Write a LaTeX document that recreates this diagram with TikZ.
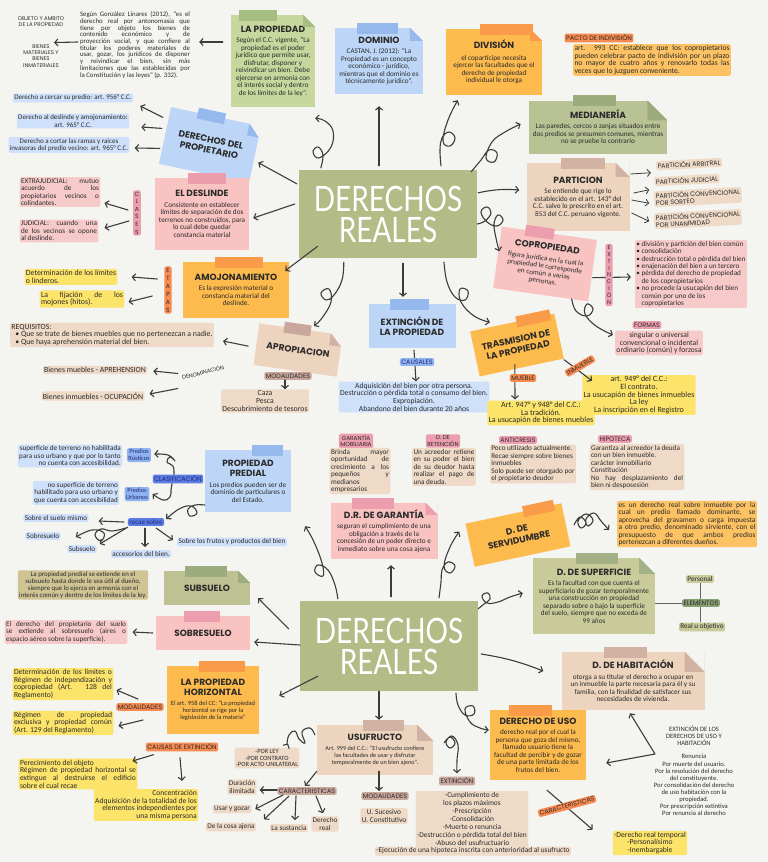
\documentclass[tikz,border=0pt]{standalone}
\usepackage{fontspec}
\setmainfont{Carlito}
\newfontfamily\headfont{Poppins}
\newfontfamily\bigfont[FakeStretch=0.8]{Lato}
\usetikzlibrary{arrows.meta,calc,positioning}

\definecolor{paper}{HTML}{F4F4F1}
\definecolor{ink}{HTML}{3C3C3C}
\definecolor{txt}{HTML}{2B2B2B}
\definecolor{navy}{HTML}{1E2B78}
\definecolor{titlegreen}{HTML}{B3BB86}
\definecolor{leaf}{HTML}{C6D89E}
\definecolor{leafd}{HTML}{A6BF80}
\definecolor{sky}{HTML}{BDD6F7}
\definecolor{skyd}{HTML}{95B9EC}
\definecolor{skyl}{HTML}{CFE0FA}
\definecolor{royal}{HTML}{5B7BE3}
\definecolor{mid}{HTML}{8FB3F0}
\definecolor{amber}{HTML}{FDBA4D}
\definecolor{amberd}{HTML}{F99B48}
\definecolor{coral}{HTML}{F68A50}
\definecolor{apricot}{HTML}{FDC263}
\definecolor{lemon}{HTML}{FCE36A}
\definecolor{rose}{HTML}{F8C3C1}
\definecolor{rosed}{HTML}{EC9EAF}
\definecolor{rosel}{HTML}{F7CACA}
\definecolor{sand}{HTML}{EDD4BE}
\definecolor{sandd}{HTML}{D2B2A2}
\definecolor{sandl}{HTML}{EFDAC8}
\definecolor{cocoa}{HTML}{C9A79D}
\definecolor{sage}{HTML}{B8C294}
\definecolor{saged}{HTML}{9DAC7E}
\definecolor{moss}{HTML}{C9CB9B}
\definecolor{mossd}{HTML}{A4B184}
\definecolor{fern}{HTML}{86A072}
\definecolor{olive}{HTML}{BEC191}
\definecolor{khaki}{HTML}{D0C495}

\newcommand{\bsz}{\fontsize{7.2}{7.5}\selectfont}
\newcommand{\ssz}{\fontsize{6.4}{6.9}\selectfont}
\newcommand{\lsz}{\fontsize{7.8}{7.7}\selectfont}
\newcommand{\tsz}{\headfont\fontsize{6.4}{6.8}\selectfont}
\newcommand{\ntitle}[1]{{\headfont\bfseries\fontsize{9}{10}\selectfont #1}}

\newcommand{\notetape}[4]{%
  \coordinate (#1-ta) at ($(#1.north west)!#3!(#1.north east)$);
  \coordinate (#1-tb) at ($(#1.north west)!#4!(#1.north east)$);
  \fill[#2] ($(#1-ta)!5pt!90:(#1-tb)$) -- ($(#1-tb)!5pt!-90:(#1-ta)$)
    -- ($(#1-tb)!6pt!90:(#1-ta)$) -- ($(#1-ta)!6pt!-90:(#1-tb)$) -- cycle;}
\newcommand{\notefold}[3]{%
  \coordinate (#1-fa) at ($(#1.north east)!#3!(#1.north west)$);
  \coordinate (#1-fb) at ($(#1.north east)!#3!(#1.south east)$);
  \fill[paper] (#1.north east) -- (#1-fa) -- (#1-fb) -- cycle;
  \fill[#2] (#1-fa) -- (#1-fb) -- ($(#1-fa)+(#1-fb)-(#1.north east)$) -- cycle;}

\tikzset{
  note/.style={fill=#1, inner xsep=4pt, inner ysep=3pt, align=center, text=txt, font=\bsz},
  hl/.style={fill=#1, rounded corners=1.5pt, inner sep=1.3pt, text=txt, font=\bsz},
  tag/.style={fill=#1, rounded corners=1.5pt, inner sep=1.5pt, text=txt, font=\tsz},
  bare/.style={text=txt, font=\bsz, inner sep=1pt},
  bigtitle/.style={fill=titlegreen, text=white, font=\bigfont\fontsize{35}{31}\selectfont,
    align=center, minimum width=178pt, minimum height=88pt, inner sep=0pt},
  arr/.style={draw=ink, line width=1.1pt, line cap=round, line join=round,
    -{Straight Barb[length=3.2pt,width=7pt]}},
  arrs/.style={arr, line width=0.8pt},
  both/.style={arr, {Straight Barb[length=3.2pt,width=7pt]}-{Straight Barb[length=3.2pt,width=7pt]}},
  link/.style={draw=ink!80, line width=0.6pt},
  loopy/.style={arr, smooth, tension=0.7}
}

\begin{document}
\begin{tikzpicture}[x=1pt,y=-1pt]
\useasboundingbox (0,0) rectangle (768,862);
\fill[paper] (0,0) rectangle (768,862);

% ---------- upper map
\node[bigtitle] (top) at (388,214) {DERECHOS\\REALES};

\node[note=leaf, minimum width=84pt, minimum height=92pt] (propiedad) at (273,61)
  {\ntitle{LA PROPIEDAD}\\[3pt]Según el C.C. vigente, “La\\propiedad es el poder\\jurídico que permite usar,\\disfrutar, disponer y\\reivindicar un bien. Debe\\ejercerse en armonía con\\el interés social y dentro\\de los límites de la ley”.};
\notefold{propiedad}{leafd}{12pt}
\notetape{propiedad}{leafd}{0.1}{0.55}
\node[note=sky, minimum width=86pt, minimum height=66pt] (dominio) at (379,61)
  {\ntitle{DOMINIO}\\[3pt]CASTAN, J. (2012): “La\\Propiedad es un concepto\\económico - jurídico,\\mientras que el dominio es\\técnicamente jurídico”.};
\notefold{dominio}{skyd}{13pt}
\notetape{dominio}{skyd}{0.25}{0.72}
\node[note=amber, minimum width=96pt, minimum height=66pt] (division) at (494,62)
  {\ntitle{DIVISIÓN}\\[4pt]el copartícipe necesita\\ejercer las facultades que el\\derecho de propiedad\\individual le otorga};
\notefold{division}{amberd}{12pt}
\notetape{division}{amberd}{0.35}{0.9}

\node[bare, align=center, font=\headfont\fontsize{5.4}{6}\selectfont] (ambito) at (41,22) {OBJETO Y AMBITO\\DE LA PROPIEDAD};
\node[bare, align=center, font=\headfont\fontsize{5.4}{6.2}\selectfont] (bienes) at (41,56) {BIENES\\MATERIALES Y\\BIENES\\INMATERIALES};
\node[bare, text width=110pt, align=justify, font=\fontsize{6.8}{6.7}\selectfont] (quote) at (135,45)
  {Según González Linares (2012), “es el \linebreak derecho real por antonomasia que \linebreak tiene por objeto los bienes de \linebreak contenido económico y de \linebreak proyección social, y que confiere al \linebreak titular los poderes materiales de \linebreak usar, gozar, los jurídicos de disponer \linebreak y reivindicar el bien, sin más \linebreak limitaciones que las establecidas por \linebreak la Constitución y las leyes” (p. 332).};
\draw[arr] ($(propiedad.west |- quote.east)+(-8,-3)$) -- ($(quote.east)+(8,-3)$);
\draw[arr] ($(quote.west)+(-1,-3)$) -- ($(bienes.north east)+(-6,-1)$);

\node[tag=coral] (pacto) at (599,38) {PACTO DE INDIVISIÓN};
\node[hl=apricot, text width=155pt, align=justify, font=\fontsize{7.6}{7.5}\selectfont] (pactotxt) at (652,60)
  {art. 993 CC: establece que los copropietarios \linebreak pueden celebrar pacto de indivisión por un plazo \linebreak no mayor de cuatro años y renovarlo todas las \linebreak veces que lo juzguen conveniente.};

\node[note=sage, minimum width=137pt, minimum height=53pt] (medianeria) at (598,127)
  {\ntitle{MEDIANERÍA}\\[3pt]Las paredes, cercos o zanjas situados entre\\dos predios se presumen comunes, mientras\\no se pruebe lo contrario};
\notefold{medianeria}{saged}{20pt}
\notetape{medianeria}{saged}{0.32}{0.63}

\node[note=sand, minimum width=103pt, minimum height=68pt] (particion) at (578,197)
  {\ntitle{PARTICION}\\[3pt]Se entiende que rige lo\\establecido en el art. 143° del\\C.C. salvo lo prescrito en el art.\\853 del C.C. peruano vigente.};
\notefold{particion}{sandd}{14pt}
\notetape{particion}{sandd}{0.34}{0.76}
\node[tag=sandl, font=\headfont\fontsize{6.4}{6.8}\selectfont, rotate=3] (arbitral) at (689,164) {PARTICIÓN ARBITRAL};
\node[tag=sandl, font=\headfont\fontsize{6.4}{6.8}\selectfont, rotate=3] (judicial) at (687,180) {PARTICIÓN JUDICIAL};
\node[tag=sandl, font=\headfont\fontsize{6.4}{6.8}\selectfont, align=left, rotate=3] (sorteo) at (698,197) {PARTICIÓN CONVENCIONAL\\POR SORTEO};
\node[tag=sandl, font=\headfont\fontsize{6.4}{6.8}\selectfont, align=left, rotate=3] (unanimidad) at (698,219) {PARTICIÓN CONVENCIONAL\\POR UNANIMIDAD};
\draw[arrs] ($(particion.east)+(1,-23)$) -- ($(arbitral.west)+(-5,7)$);
\draw[arrs] ($(particion.east)+(4,-4)$) -- ($(judicial.west)+(-5,8)$);
\draw[arrs] ($(particion.east)+(2,3)$) -- ($(sorteo.west)+(-5,4)$);
\draw[arrs] ($(particion.east)+(2,16)$) -- ($(unanimidad.west)+(-5,0)$);

\node[note=sky, minimum width=92pt, minimum height=58pt, rotate=-12] (propietario) at (210,145)
  {\ntitle{DERECHOS DEL}\\[3pt]\ntitle{PROPIETARIO}};
\notefold{propietario}{skyd}{12pt}
\notetape{propietario}{skyd}{0.3}{0.6}
\node[hl=skyl, font=\fontsize{7}{7.2}\selectfont] (cercar) at (73,98) {Derecho a cercar su predio: art. 956° C.C.};
\node[hl=skyl, align=center, font=\fontsize{7}{7.2}\selectfont] (amojon) at (73,121) {Derecho al deslinde y amojonamiento:\\art. 965° C.C.};
\node[hl=skyl, align=center, font=\fontsize{7}{7.2}\selectfont] (cortar) at (69,145) {Derecho a cortar las ramas y raíces\\invasoras del predio vecino: art. 965° C.C.};
\draw[arr] ($(propietario.west)+(-2,-18)$) -- ($(cercar.east)+(7,8)$);
\draw[arr] ($(propietario.west)+(-3,-7)$) -- ($(amojon.east)+(12,6)$);
\draw[arr] ($(propietario.west)+(-5,13)$) -- ($(cortar.east)+(5,3)$);

\node[note=rose, minimum width=94pt, minimum height=72pt] (deslinde) at (202,214)
  {\ntitle{EL DESLINDE}\\[3pt]Consistente en establecer\\límites de separación de dos\\terrenos no construidos, para\\lo cual debe quedar\\constancia material};
\notetape{deslinde}{rosed}{0.35}{0.75}
\node[tag=rosed, align=center, font=\headfont\fontsize{6}{7.6}\selectfont] (clases) at (137,213) {C\\L\\A\\S\\E\\S};
\node[hl=rosel, text width=78pt, align=justify] (extrajud) at (60,192)
  {EXTRAJUDICIAL: mutuo \linebreak acuerdo de los \linebreak propietarios vecinos o \linebreak colindantes.};
\node[hl=rosel, text width=76pt, align=justify] (judicial2) at (59,231)
  {JUDICIAL: cuando una \linebreak de los vecinos se opone \linebreak al deslinde.};
\draw[arr] ($(clases.west)+(-5,-3)$) -- ($(extrajud.east)+(4,11)$);
\draw[arr] ($(clases.west)+(-4,8)$) -- ($(judicial2.east)+(6,-3)$);

\node[note=amber, minimum width=106pt, minimum height=56pt] (amojonamiento) at (236,290)
  {\ntitle{AMOJONAMIENTO}\\[3pt]Es la expresión material o\\constancia material del\\deslinde.};
\notetape{amojonamiento}{amberd}{0.3}{0.75}
\node[tag=coral, align=center, font=\headfont\fontsize{6}{8}\selectfont] (etapas) at (168,290) {E\\T\\A\\P\\A\\S};
\node[hl=lemon, align=left, font=\lsz] (limites) at (71,277) {Determinación de los límites\\o linderos.};
\node[hl=lemon, text width=82pt, align=justify, font=\lsz] (mojones) at (82,299) {La fijación de los \linebreak mojones (hitos).};
\draw[arr] ($(etapas.west)+(-7,-11)$) -- ($(limites.east)+(14,0)$);
\draw[arr] ($(etapas.west)+(-12,6)$) -- ($(mojones.east)+(4,3)$);

\node[note=sand, minimum width=84pt, minimum height=42pt, rotate=-8] (apropiacion) at (298,350) {\ntitle{APROPIACION}};
\notefold{apropiacion}{sandd}{12pt}
\notetape{apropiacion}{cocoa}{0.3}{0.62}
\node[hl=sandl, align=left, font=\lsz] (requisitos) at (112,335)
  {REQUISITOS:\\\hspace*{4pt}\textbullet\ Que se trate de bienes muebles que no pertenezcan a nadie.\\\hspace*{4pt}\textbullet\ Que haya aprehensión material del bien.};
\draw[arr] ($(apropiacion.west)+(-8,2)$) -- ($(requisitos.east)+(9,6)$);
\node[bare, font=\headfont\fontsize{5.6}{6}\selectfont, rotate=14] (denom) at (203,372) {DENOMINACIÓN};
\node[hl=sandl, font=\lsz] (aprehension) at (95,370) {Bienes muebles - APREHENSION};
\node[hl=sandl, font=\lsz] (ocupacion) at (93,396) {Bienes inmuebles - OCUPACIÓN};
\draw[arr] ($(denom.west)+(-3,-4)$) -- ($(aprehension.east)+(6,1)$);
\draw[arr] ($(denom.west)+(-3,11)$) -- ($(ocupacion.east)+(5,-2)$);
\node[tag=cocoa] (modal1) at (288,376) {MODALIDADES};
\node[hl=sandl, align=center, font=\lsz] (caza) at (265,401) {Caza\\Pesca\\Descubrimiento de tesoros};
\draw[arr] ($(modal1.south)+(-3,0)$) -- ($(modal1.south |- caza.north)+(-3,0)$);

\node[note=sky, minimum width=87pt, minimum height=44pt] (extincion) at (412,326)
  {\ntitle{EXTINCIÓN DE}\\[3pt]\ntitle{LA PROPIEDAD}};
\notetape{extincion}{skyd}{0.25}{0.7}
\node[hl=skyl, align=center, font=\fontsize{7.6}{7.6}\selectfont] (causaltxt) at (414,397)
  {Adquisición del bien por otra persona.\\Destrucción o pérdida total o consumo del bien.\\Expropiación.\\Abandono del bien durante 20 años};
\draw[arr] ($(extincion.south)+(2,2)$) -- ($(causaltxt.north)+(2,0)$);
\node[tag=mid, text=navy] (causales) at (417,362) {CAUSALES};

\node[note=amber, minimum width=86pt, minimum height=46pt, rotate=12] (trasmision) at (517,345)
  {\ntitle{TRASMISION DE}\\[3pt]\ntitle{LA PROPIEDAD}};
\notetape{trasmision}{amberd}{0.55}{0.95}
\node[hl=lemon, align=center, font=\fontsize{8}{7.6}\selectfont] (muebletxt) at (541,413)
  {Art. 947° y 948° del C.C.:\\La tradición.\\La usucapión de bienes muebles};
\node[hl=lemon, align=center, font=\fontsize{8}{7.6}\selectfont] (inmuebletxt) at (639,395)
  {art. 949° del C.C.:\\El contrato.\\La usucapión de bienes inmuebles\\La ley\\La inscripción en el Registro};
\draw[arr] ($(trasmision.south)+(-7,-3)$) -- ($(muebletxt.north)+(-26,-1)$);
\draw[arr] ($(trasmision.south east)+(0,1)$) -- ($(inmuebletxt.north west)+(10,6)$);
\node[tag=coral] (mueble) at (523,378) {MUEBLE};
\node[tag=coral, rotate=30] (inmueble) at (580,366) {INMUEBLE};

\node[note=rose, minimum width=96pt, minimum height=62pt, rotate=-8] (copropiedad) at (545,264)
  {\ntitle{COPROPIEDAD}\\[4pt]figura jurídica en la cual la\\propiedad le corresponde\\en común a varias\\personas.};
\notetape{copropiedad}{rosed}{0.25}{0.55}
\node[hl=rosel, align=left, font=\fontsize{7.2}{7.4}\selectfont] (extlist) at (691,274)
  {\textbullet\ división y partición del bien común\\\textbullet\ consolidación\\\textbullet\ destrucción total o pérdida del bien\\\textbullet\ enajenación del bien a un tercero\\\textbullet\ pérdida del derecho de propiedad\\\phantom{\textbullet\ }de los copropietarios\\\textbullet\ no procede la usucapión del bien\\\phantom{\textbullet\ }común por uno de los\\\phantom{\textbullet\ }copropietarios};
\draw[arr] ($(copropiedad.east)+(0,7)$) -- ($(extlist.west)+(-4,3)$);
\node[tag=rosed, align=center, font=\headfont\fontsize{5.5}{6.9}\selectfont] (extv) at (609,275) {E\\X\\T\\I\\N\\C\\I\\Ó\\N};
\node[tag=rosed] (formas) at (647,325) {FORMAS};
\node[hl=rosel, align=center, font=\fontsize{7.6}{7.8}\selectfont] (formtxt) at (659,343)
  {singular o universal\\convencional o incidental\\ordinario (común) y forzosa};
\draw[loopy] plot coordinates {($(copropiedad.south)+(31,4)$) (576,311) (587,316) (593,309) (587,304) (585,314) (596,326) ($(formtxt.west)+(-2,-8)$)};

\draw[arr] ($(top.north -| dominio.south)+(0,-4)$) -- ($(dominio.south)+(0,12)$);
\draw[loopy] plot coordinates {($(top.north west)+(22,-2)$) (323,155) (318,147) (313,152) (319,158) (331,147) (333,131) (325,121) ($(propiedad.south east)+(0,11)$)};
\draw[loopy] plot coordinates {($(top.north)+(53,-4)$) (440,150) (442,138) (449,132) (455,138) (450,146) (443,141) (448,120) ($(division.south west)+(12,5)$)};
\draw[loopy] plot coordinates {($(top.north east)+(-6,2)$) (481,160) (489,150) (497,153) (494,162) (486,158) (492,142) (505,132) ($(medianeria.west)+(-8,-3)$)};
\draw[arr] ($(top.north east)+(1,23)$) to[bend left=8] ($(particion.west)+(-7,-7)$);
\draw[loopy] plot coordinates {($(top.east)+(0,10)$) (485,221) (491,213) (487,207) (481,212) (487,222) (497,226) (503,220) (498,215) (494,224) (496,238) ($(copropiedad.west)+(2,-6)$)};
\draw[loopy] plot coordinates {($(top.south)+(56,4)$) (447,282) (455,297) (465,300) (468,291) (460,289) (461,302) (474,316) ($(trasmision.north west)+(20,-9)$)};
\draw[arr] ($(top.north west)+(-2,14)$) -- ($(propietario.east)+(3,8)$);
\draw[arr] ($(top.west)+(-4,-10)$) -- ($(deslinde.east)+(4,4)$);
\draw[arr] ($(top.south west)+(19,-12)$) -- ($(amojonamiento.north east)+(-4,9)$);
\draw[loopy] plot coordinates {($(top.south west)+(45,4)$) (342,280) (334,295) (326,300) (321,293) (329,289) (331,302) (322,318) ($(apropiacion.north)+(13,-3)$)};
\draw[arr] ($(top.south)+(15,5)$) -- ($(extincion.north)+(-9,-7)$);

% ---------- lower map
\node[bigtitle, minimum height=90pt] (bot) at (389,646) {DERECHOS\\REALES};

\node[hl=skyl, align=right] (rustxt) at (70,456) {superficie de terreno no habilitada\\para uso urbano y que por lo tanto\\no cuenta con accesibilidad.};
\node[hl=mid, align=center, text=navy, font=\ssz] (rusticos) at (139,455) {Predios\\Rústicos};
\node[tag=royal, text=navy] (clasif) at (178,479) {CLASIFICACIÓN};
\node[hl=skyl, align=right] (urbtxt) at (76,493) {no superficie de terreno\\habilitado para uso urbano y\\que cuenta con accesibilidad};
\node[hl=mid, align=center, text=navy, font=\ssz] (urbanos) at (137,494) {Predios\\Urbanos};
\draw[loopy] plot coordinates {($(clasif.north)+(-4,0)$) (173,466) (167,462) (170,457) (175,461) (168,455) ($(rusticos.east)+(3,-1)$)};
\draw[loopy] plot coordinates {($(clasif.south)+(-6,0)$) (171,490) (170,497) (163,500) ($(urbanos.east)+(3,0)$)};

\node[note=sky, minimum width=86pt, minimum height=62pt] (predial) at (248,481)
  {\ntitle{PROPIEDAD}\\[3pt]\ntitle{PREDIAL}\\[3pt]Los predios pueden ser de\\dominio de particulares o\\del Estado.};
\notetape{predial}{skyd}{0.55}{0.9}
\node[tag=royal, text=navy, font=\fontsize{7}{7}\selectfont] (recae) at (146,522) {recae sobre};
\node[hl=skyl] (suelo) at (56,518) {Sobre el suelo mismo};
\node[hl=skyl] (sobresuelo2) at (43,536) {Sobresuelo};
\node[hl=skyl] (subsuelo2) at (82,549) {Subsuelo};
\node[hl=skyl] (accesorios) at (141,554) {accesorios del bien.};
\node[hl=skyl] (frutos) at (232,542) {Sobre los frutos y productos del bien};
\draw[loopy] plot coordinates {($(predial.west)+(0,24)$) (195,505) (188,509) (190,516) (197,513) (191,506) (179,509) ($(recae.east)+(2,-3)$)};
\draw[arr] ($(recae.west)+(-4,0)$) -- ($(suelo.east)+(10,3)$);
\draw[loopy] plot coordinates {($(recae.west)+(-2,6)$) (112,531) (101,529) (95,535) (101,541) (104,533) (92,530) ($(sobresuelo2.east)+(15,1)$)};
\draw[arr] ($(recae.south west)+(0,1)$) -- ($(subsuelo2.north east)+(3,-1)$);
\draw[arr] ($(recae.south)+(-1,2)$) -- ($(accesorios.north -| recae.south)+(-1,-3)$);
\draw[arr] ($(recae.south east)+(-8,2)$) -- ($(frutos.west)+(-4,-2)$);

\node[tag=rosed, align=center, font=\headfont\fontsize{5.8}{6.2}\selectfont] (mobiliaria) at (356,441) {GARANTÍA\\MOBILIARIA};
\node[hl=sandl, text width=58pt, align=justify] (brinda) at (360,471)
  {Brinda mayor \linebreak oportunidad de \linebreak crecimiento a los \linebreak pequeños y \linebreak medianos\\empresarios};
\node[tag=rosed, align=center, font=\headfont\fontsize{5.8}{6.2}\selectfont] (retencion) at (443,441) {D. DE\\RETENCIÓN};
\node[hl=sandl, text width=61pt, align=justify] (retxt) at (444,467)
  {Un acreedor retiene \linebreak en su poder el bien \linebreak de su deudor hasta \linebreak realizar el pago de \linebreak una deuda.};
\node[tag=rosed] (anticresis) at (518,440) {ANTICRESIS};
\node[hl=sandl, align=left] (antxt) at (533,464)
  {Poco utilizado actualmente.\\Recae siempre sobre bienes\\inmuebles\\Solo puede ser otorgado por\\el propietario deudor};
\node[tag=rosed] (hipoteca) at (615,439) {HIPOTECA};
\node[hl=sandl, text width=92pt, align=justify] (hiptxt) at (637,467)
  {Garantiza al acreedor la deuda\\con un bien inmueble.\\carácter inmobiliario\\Constitución\\No hay desplazamiento del \linebreak bien ni desposesión};

\node[note=rose, minimum width=107pt, minimum height=56pt] (garantia) at (384,531)
  {\ntitle{D.R. DE GARANTÍA}\\[3pt]seguran el cumplimiento de una\\obligación a través de la\\concesión de un poder directo e\\inmediato sobre una cosa ajena};
\notefold{garantia}{rosed}{12pt}
\notetape{garantia}{rosed}{0.2}{0.59}

\node[note=amber, minimum width=98pt, minimum height=44pt, rotate=12] (servidumbre) at (518,535)
  {\ntitle{D. DE}\\[3pt]\ntitle{SERVIDUMBRE}};
\notetape{servidumbre}{amberd}{0.6}{0.92}
\node[hl=apricot, text width=137pt, align=justify, font=\fontsize{7.4}{7.5}\selectfont] (servtxt) at (687,524)
  {es un derecho real sobre inmueble por la \linebreak cual un predio llamado dominante, se \linebreak aprovecha del gravamen o carga impuesta \linebreak a otro predio, denominado sirviente, con el \linebreak presupuesto de que ambos predios \linebreak pertenezcan a diferentes dueños.};
\draw[loopy] plot coordinates {($(servidumbre.east)+(8,0)$) (580,517) (586,523) (581,528) (578,521) (586,514) (593,520) (588,526) (586,519) (594,513) (601,521) ($(servtxt.west)+(-8,6)$)};

\node[note=moss, minimum width=122pt, minimum height=76pt] (superficie) at (594,596)
  {\ntitle{D. DE SUPERFICIE}\\[3pt]Es la facultad con que cuenta el\\superficiario de gozar temporalmente\\una construcción en propiedad\\separado sobre o bajo la superficie\\del suelo, siempre que no exceda de\\99 años};
\notefold{superficie}{mossd}{16pt}
\notetape{superficie}{mossd}{0.35}{0.7}
\node[hl=moss] (personal) at (700,579) {Personal};
\node[hl=moss] (real) at (702,627) {Real u objetivo};
\draw[link] (personal.south) -- (personal.south |- real.north);
\node[tag=fern] (elementos) at (701,603) {ELEMENTOS};
\draw[link] (superficie.east |- elementos.west) -- (elementos.west);

\node[note=olive, minimum width=86pt, minimum height=34pt] (subsuelo) at (207,588) {\ntitle{SUBSUELO}};
\notefold{subsuelo}{saged}{12pt}
\notetape{subsuelo}{saged}{0.24}{0.73}
\node[hl=khaki, align=center, font=\fontsize{6.8}{7}\selectfont] (subtxt) at (83,585)
  {La propiedad predial se extiende en el\\subsuelo hasta donde le sea útil al dueño,\\siempre que lo ejerza en armonía con el\\interés común y dentro de los límites de la ley.};

\node[note=rose, minimum width=94pt, minimum height=34pt] (sobresuelo) at (203,633) {\ntitle{SOBRESUELO}};
\notetape{sobresuelo}{rosed}{0.3}{0.68}
\node[hl=rosel, text width=120pt, align=justify] (sobretxt) at (66,632)
  {El derecho del propietario del suelo \linebreak se extiende al sobresuelo (aires o \linebreak espacio aéreo sobre la superficie).};
\draw[arr] ($(sobresuelo.west)+(-3,0)$) -- ($(sobretxt.east)+(5,0)$);

\node[note=amber, minimum width=88pt, minimum height=68pt, font=\ssz] (horizontal) at (213,700)
  {\ntitle{LA PROPIEDAD}\\[3pt]\ntitle{HORIZONTAL}\\[3pt]El art. 958 del CC: “La propiedad\\horizontal se rige por la\\legislación de la materia”};
\notetape{horizontal}{amberd}{0.35}{0.85}
\node[tag=coral] (modal2) at (140,707) {MODALIDADES};
\node[hl=lemon, text width=98pt, align=justify, font=\fontsize{7.6}{7.6}\selectfont] (regimen1) at (63,684)
  {Determinación de los límites o \linebreak Régimen de independización y \linebreak copropiedad (Art. 128 del \linebreak Reglamento)};
\node[hl=lemon, text width=98pt, align=justify, font=\fontsize{7.6}{7.6}\selectfont] (regimen2) at (63,723)
  {Régimen de propiedad \linebreak exclusiva y propiedad común \linebreak (Art. 129 del Reglamento)};
\draw[arr] ($(modal2.north)+(-2,-4)$) -- ($(regimen1.east)+(3,6)$);
\draw[arr] ($(modal2.south)+(3,9)$) -- ($(regimen2.east)+(5,3)$);
\node[tag=coral] (causas) at (182,747) {CAUSAS DE EXTINCIÓN};
\node[hl=lemon, text width=116pt, align=justify, font=\fontsize{7.6}{7.6}\selectfont] (perecimiento) at (78,774)
  {Perecimiento del objeto\\Régimen de propiedad horizontal se \linebreak extingue al destruirse el edificio \linebreak sobre el cual recae};
\node[hl=lemon, align=right, font=\fontsize{7.6}{7.6}\selectfont] (concentracion) at (146,805)
  {Concentración\\Adquisición de la totalidad de los\\elementos independientes por\\una misma persona};
\draw[arr] ($(causas.south west)+(8,3)$) -- ($(perecimiento.east)+(-5,-13)$);
\draw[arr] ($(causas.south)+(-2,6)$) -- ($(concentracion.north -| causas.south)+(0,-8)$);

\node[note=sand, minimum width=116pt, minimum height=50pt, font=\fontsize{6.2}{6.8}\selectfont] (usufructo) at (375,750)
  {\ntitle{USUFRUCTO}\\[3pt]Art. 999 del C.C.: “El usufructo confiere\\las facultades de usar y disfrutar\\temporalmente de un bien ajeno”.};
\notefold{usufructo}{sandd}{16pt}
\notetape{usufructo}{sandd}{0.4}{0.75}
\node[hl=sandl, align=center, font=\ssz] (porley) at (267,758) {-POR LEY\\-POR CONTRATO\\-POR ACTO UNILATERAL};
\node[tag=cocoa] (caract) at (307,791) {CARACTERISTICAS};
\node[hl=sandl, align=center] (duracion) at (242,787) {Duración\\ilimitada};
\node[hl=sandl] (usar) at (232,809) {Usar y gozar};
\node[hl=sandl] (ajena) at (231,827) {De la cosa ajena};
\node[hl=sandl] (sustancia) at (289,828) {La sustancia};
\node[hl=sandl, align=center] (dreal) at (325,824) {Derecho\\real};
\node[tag=cocoa] (modal3) at (385,796) {MODALIDADES};
\node[hl=sandl, align=center, font=\fontsize{7.4}{8}\selectfont] (usc) at (384,816) {U. Sucesivo\\U. Constitutivo};
\node[tag=cocoa] (ext3) at (457,781) {EXTINCIÓN};
\node[hl=sandl, align=center, font=\fontsize{7.4}{8}\selectfont] (extlist3) at (472,819)
  {-Cumplimiento de\\los plazos máximos\\-Prescripción\\-Consolidación\\-Muerte o renuncia\\-Destrucción o pérdida total del bien\\-Abuso del usufructuario};
\node[hl=sandl, font=\fontsize{7.4}{8}\selectfont] (ejecucion) at (473,851) {-Ejecución de una hipoteca inscrita con anterioridad al usufructo};
\draw[loopy] plot coordinates {($(usufructo.north west)+(-2,10)$) (310,728) (302,732) (305,743) (299,739) (295,731) (289,735) (287,744) ($(porley.north)+(21,-4)$)};
\draw[arr] ($(usufructo.south west)+(0,-4)$) -- ($(caract.north)+(-2,-1)$);
\draw[arr] ($(caract.west)+(0,-1)$) -- ($(duracion.east)+(3,3)$);
\draw[arr] ($(caract.south west)+(6,0)$) -- ($(usar.east)+(4,0)$);
\draw[arr] ($(caract.south west)+(12,1)$) -- ($(ajena.north east)+(8,-3)$);
\draw[arr] ($(caract.south)+(-11,1)$) -- ($(sustancia.north)+(6,-4)$);
\draw[arr] ($(caract.south)+(9,1)$) -- ($(dreal.north)+(-2,-3)$);
\draw[arr] ($(usufructo.south)+(4,-4)$) -- ($(modal3.north)+(-6,-1)$);
\draw[loopy] plot coordinates {($(usufructo.north east)+(11,18)$) (450,737) (455,743) (450,748) (446,742) (452,736) (458,745) (457,760) ($(ext3.north)+(0,-3)$)};

\node[note=amber, minimum width=96pt, minimum height=70pt] (uso) at (538,745)
  {\ntitle{DERECHO DE USO}\\[3pt]derecho real por el cual la\\persona que goza del mismo,\\llamado usuario tiene la\\facultad de percibir y de gozar\\de una parte limitada de los\\frutos del bien.};
\notetape{uso}{amberd}{0.2}{0.65}
\node[hl=lemon, align=center, font=\fontsize{7.6}{7.6}\selectfont] (usotxt) at (650,843) {-Derecho real temporal\\-Personalísimo\\-Inembargable};
\draw[arr] ($(uso.south)+(9,10)$) -- ($(usotxt.north west)+(-20,-1)$);
\node[tag=coral, rotate=15] (caract2) at (567,806) {CARACTERISTICAS};

\node[note=sand, minimum width=143pt, minimum height=58pt] (habitacion) at (633,681)
  {\ntitle{D. DE HABITACIÓN}\\[3pt]otorga a su titular el derecho a ocupar en\\un inmueble la parte necesaria para él y su\\familia, con la finalidad de satisfacer sus\\necesidades de vivienda.};
\notefold{habitacion}{sandd}{20pt}
\notetape{habitacion}{sandd}{0.3}{0.6}
\node[bare, align=center, font=\fontsize{6.6}{7.1}\selectfont] (extuso) at (694,771)
  {EXTINCIÓN DE LOS\\DERECHOS DE USO Y\\HABITACIÓN\\[6pt]Renuncia\\Por muerte del usuario.\\Por la resolución del derecho\\del constituyente.\\Por consolidación del derecho\\de uso habitación con la\\propiedad.\\Por prescripción extintiva\\Por renuncia al derecho};
\coordinate (vv) at (655,754);
\draw[both] ($(habitacion.south)+(-3,3)$) -- (vv) -- ($(uso.east)+(20,18)$);

\draw[loopy] plot coordinates {($(bot.north west)+(38,-2)$) (335,585) (328,570) (318,565) (315,572) (323,576) (322,563) (314,542) ($(predial.south east)+(14,14)$)};
\draw[arr] ($(bot.north)+(2,-4)$) -- ($(garantia.south)+(7,6)$);
\draw[loopy] plot coordinates {($(bot.north)+(50,-3)$) (441,582) (442,570) (448,562) (455,566) (450,573) (444,566) (450,547) ($(servidumbre.north west)+(-6,8)$)};
\draw[loopy] plot coordinates {($(bot.north east)+(0,8)$) (484,604) (490,599) (488,593) (482,596) (487,603) (498,602) (510,597) ($(superficie.west)+(-10,-3)$)};
\draw[arr] ($(bot.west)+(-11,-17)$) -- ($(subsuelo.south east)+(8,-7)$);
\draw[arr] ($(bot.west)+(0,-1)$) -- ($(sobresuelo.east)+(4,9)$);
\draw[arr] ($(bot.south west)+(18,-15)$) -- ($(horizontal.north east)+(20,30)$);
\draw[arr] ($(bot.south)+(-10,0)$) -- ($(usufructo.north)+(4,-5)$);
\draw[loopy] plot coordinates {($(bot.south)+(67,2)$) (458,705) (465,715) (474,714) (473,706) (465,709) (470,722) (480,728) ($(uso.west)+(-1,-15)$)};
\draw[arr] ($(bot.east)+(3,8)$) to[bend left=6] ($(habitacion.west)+(-18,-10)$);
\end{tikzpicture}
\end{document}
